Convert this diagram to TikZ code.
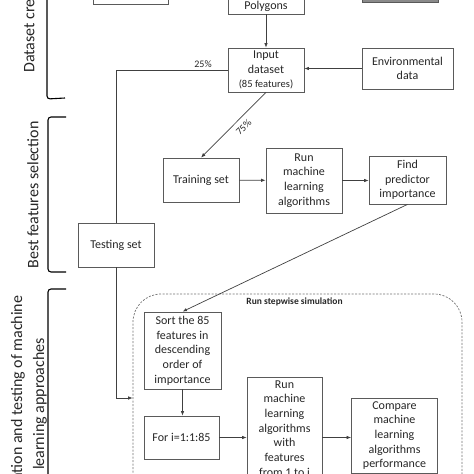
\documentclass[tikz,border=0pt]{standalone}
\usepackage{fontspec}
\setmainfont{Carlito}
\usetikzlibrary{arrows.meta}
\definecolor{boxgray}{HTML}{5A5A5A}
\definecolor{linec}{HTML}{404040}
\definecolor{textc}{HTML}{262626}
\definecolor{simc}{HTML}{707070}
\definecolor{topgray}{HTML}{8A8A8A}
\begin{document}
\begin{tikzpicture}[x=1pt,y=-1pt,
 box/.style={draw=boxgray, line width=0.8pt, inner sep=1pt, align=center, font=\fontsize{12}{14.7}\selectfont, text=textc},
 txt/.style={inner sep=0pt, font=\fontsize{12}{14.7}\selectfont, text=textc},
 arr/.style={draw=linec, line width=0.7pt, -{Latex[length=4.5pt,width=3.5pt]}},
 ln/.style={draw=linec, line width=0.7pt},
 brk/.style={draw=black, line width=1.1pt, rounded corners=3pt},
 side/.style={font=\fontsize{16}{22}\selectfont, rotate=90, align=center, text=textc, inner sep=0pt},
 pct/.style={font=\fontsize{10}{12}\selectfont, text=textc, inner sep=2pt}
]
\useasboundingbox (0,0) rectangle (474,474);
\clip (0,0) rectangle (474,474);

% top (cut) boxes
\node[box, minimum width=75pt, minimum height=50pt] (src1) at (130.5,-21) {};
\node[box, minimum width=76pt, minimum height=50pt] (poly) at (266,-11) {};
\node[txt] (polytext) at (266,6) {Polygons};
\node[box, draw=gray!70!black, fill=topgray, minimum width=76pt, minimum height=50pt] (src3) at (400,-23) {};

% dataset
\node[box, minimum width=76pt, minimum height=44pt] (input) at (266,70) {Input\\dataset\\{\fontsize{10.5}{12}\selectfont (85 features)}};
\node[box, minimum width=91pt, minimum height=41pt] (env) at (407.5,68.5) {Environmental\\data};

% feature selection
\node[box, minimum width=76pt, minimum height=44pt] (testing) at (116,245) {Testing set};
\node[box, minimum width=76pt, minimum height=44pt] (training) at (201,180) {Training set};
\node[box, minimum width=76pt, minimum height=65pt] (run1) at (304,180.5) {Run\\machine\\learning\\algorithms};
\node[box, minimum width=77pt, minimum height=48pt] (find) at (407.5,180) {Find\\predictor\\importance};

% stepwise simulation
\node[draw=simc, dash pattern=on 2pt off 1.5pt, rounded corners=28pt, minimum width=329pt, minimum height=208pt, line width=0.7pt] (sim) at (297.5,398) {};
\node[font=\bfseries\fontsize{9.5}{11}\selectfont, text=textc] (simtitle) at (294.5,302) {Run stepwise simulation};
\node[box, minimum width=77pt, minimum height=77pt] (sort) at (182.5,350.5) {Sort the 85\\features in\\descending\\order of\\importance};
\node[box, minimum width=75pt, minimum height=43pt] (for) at (181.5,437.5) {For i=1:1:85};
\node[box, minimum width=75pt, anchor=north, inner ysep=3pt] (run2) at (284.5,377) {Run\\machine\\learning\\algorithms\\with\\features\\from 1 to i};
\node[box, minimum width=86pt, anchor=north, inner ysep=3pt] (compare) at (394.5,398) {Compare\\machine\\learning\\algorithms\\performance};

% connectors
\draw[arr] (poly) -- (input);
\draw[arr] (env.west) -- (env.west -| input.east);
\draw[ln] (input.west) -| node[pct, pos=0.11, above] {25\%} (testing.north);
\draw[arr] (input.south) -- node[pct, sloped, below=3pt, pos=0.44] {75\%} (training.north);
\draw[arr] (training) -- (run1);
\draw[arr] (run1.east) -- (run1.east -| find.west);
\draw[arr] (find.south) -- (sort.north);
\draw[arr] (sort.south) -- (sort.south |- for.north);
\draw[arr] (testing.south) |- (sim.west);
\draw[arr] (for.east) -- (for.east -| run2.west);
\draw[arr] (for.east -| run2.east) -- (for.east -| compare.west);

% side labels and brackets
\node[side, anchor=west] (lab1) at (29,73) {Dataset creation};
\node[side] (lab2) at (33,195) {Best features selection};
\node[side] (lab3) at (29,404) {Validation and testing of machine\\learning approaches};
\draw[brk] (47,-10) -- (47,99) -- (65,98);
\draw[brk] (66,117) -- (48,117) -- (48,272) -- (66,272);
\draw[brk] (66,289) -- (48,289) -- (48,490);
\end{tikzpicture}
\end{document}
